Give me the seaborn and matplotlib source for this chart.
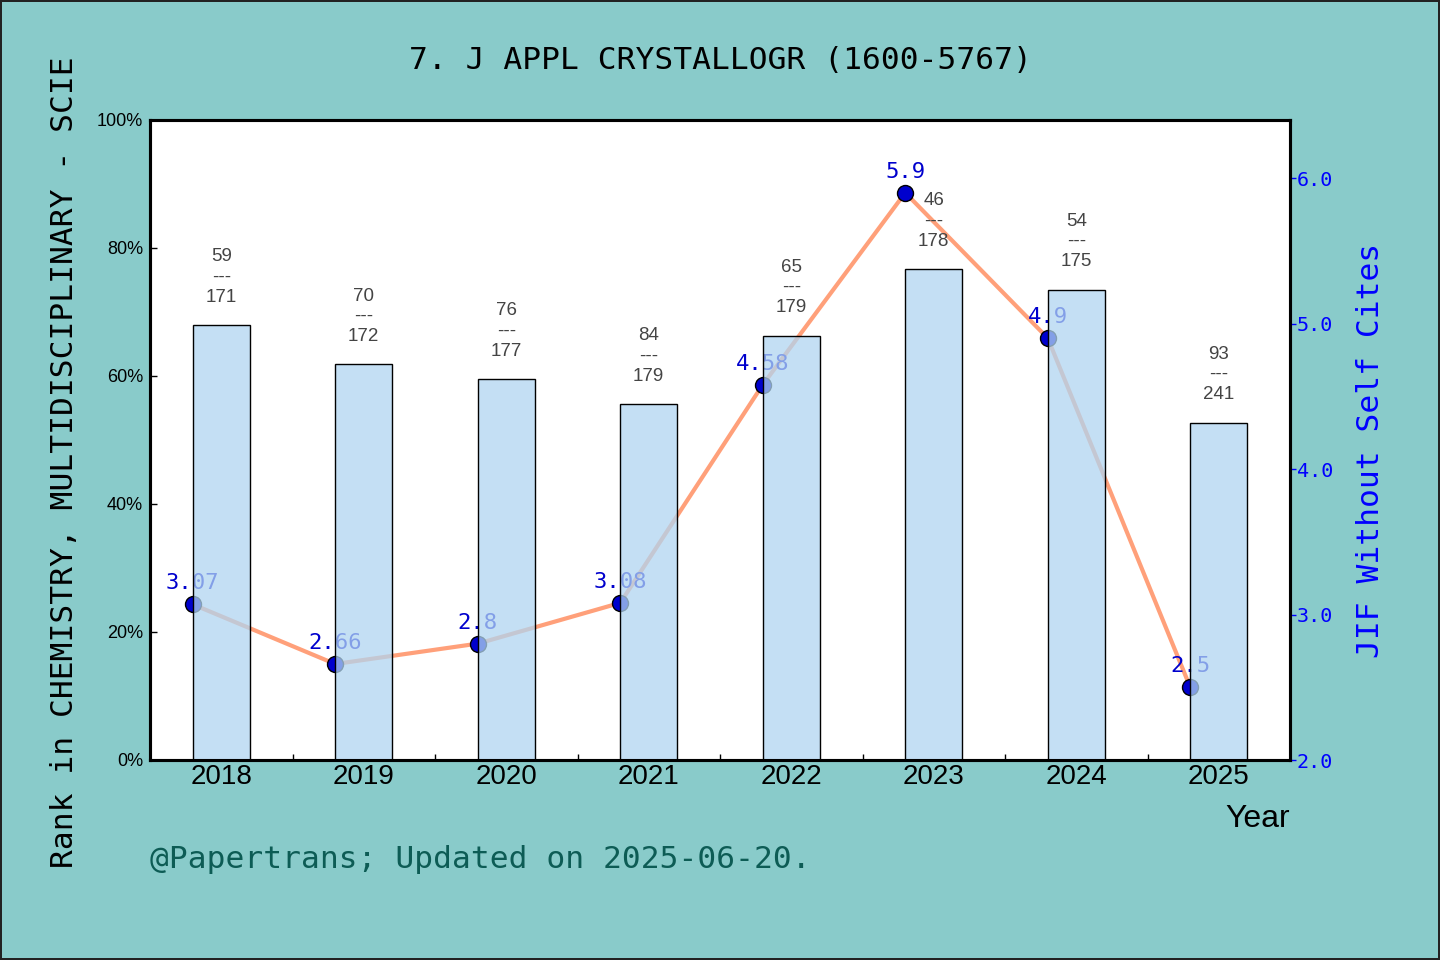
import numpy as np
import matplotlib
matplotlib.use('Agg')
import matplotlib.pyplot as plt
import seaborn as sns
from matplotlib.ticker import PercentFormatter, FixedLocator

#Data
years = [2018, 2019, 2020, 2021, 2022, 2023, 2024, 2025]
rank_pct = [0.679, 0.618, 0.595, 0.556, 0.663, 0.767, 0.735, 0.527]
ranks = [59, 70, 76, 84, 65, 46, 54, 93]
totals = [171, 172, 177, 179, 179, 178, 175, 241]
jif = [3.07, 2.66, 2.8, 3.08, 4.58, 5.9, 4.9, 2.5]

title = '7. J APPL CRYSTALLOGR (1600-5767)'
left_label = 'Rank in CHEMISTRY, MULTIDISCIPLINARY - SCIE'
right_label = 'JIF Without Self Cites'
footer = '@Papertrans; Updated on 2025-06-20.'

mono = ['DejaVu Sans Mono']
sans = ['Liberation Sans', 'DejaVu Sans']
bg = '#89CBCA'
bar_rgba = (0.69, 0.835, 0.945, 0.75)

plt.rcParams['font.family'] = sans

fig = plt.figure(figsize=(14.4, 9.6), dpi=100, facecolor=bg)
fig.patch.set_edgecolor('#222222')
fig.patch.set_linewidth(1.5)
ax1 = fig.add_axes([150/1440, 1-760/960, 1140/1440, 640/960])
ax2 = ax1.twinx()

#Bars on top of the line axis, semi transparent
ax1.set_zorder(2)
ax2.set_zorder(1)
ax1.patch.set_visible(False)
ax2.patch.set_visible(True)
ax2.patch.set_facecolor('white')

bar_x = np.array(years) + 0.2
sns.barplot(x=bar_x, y=rank_pct, native_scale=True, width=0.4, ax=ax1,
            color=bar_rgba[:3], saturation=1, edgecolor='black', linewidth=1)
for p in ax1.patches:
    p.set_facecolor(bar_rgba)
    p.set_edgecolor('black')

sns.lineplot(x=years, y=jif, ax=ax2, color='#FFA07A', linewidth=3,
             marker='o', markersize=11.5, markerfacecolor='#0000CD',
             markeredgecolor='black', markeredgewidth=1)

#Rank labels above the bars
for x, p, r, t in zip(bar_x, rank_pct, ranks, totals):
    ax1.annotate(f'{r}\n---\n{t}', xy=(x, p), xytext=(0, 14), textcoords='offset points',
                 ha='center', va='bottom', fontsize=13.5, color='#444444',
                 linespacing=1.25, family=sans)

#JIF labels above the points
for x, v in zip(years, jif):
    ax2.annotate(f'{v:g}', xy=(x, v), xytext=(0, 8), textcoords='offset points',
                 ha='center', va='bottom', fontsize=16, color='#0000CD', family=mono)

ax1.set_xlim(2017.7, 2025.7)
ax1.set_ylim(0, 1)
ax2.set_ylim(2.0, 6.4)

ax1.set_xticks(bar_x)
ax1.set_xticklabels([str(y) for y in years], fontsize=20, family=sans)
ax1.xaxis.set_minor_locator(FixedLocator(np.array(years[:-1]) + 0.7))
ax1.tick_params(axis='x', which='major', length=0, pad=3, colors='black')
ax1.tick_params(axis='x', which='minor', length=4, width=1, direction='in', color='black')

ax1.set_yticks([0, 0.2, 0.4, 0.6, 0.8, 1.0])
ax1.yaxis.set_major_formatter(PercentFormatter(1, decimals=0))
ax1.tick_params(axis='y', length=5, width=1, direction='in', pad=5, labelsize=13, colors='black')

ax2.set_yticks([2, 3, 4, 5, 6])
ax2.set_yticklabels([f'{t:.1f}' for t in [2, 3, 4, 5, 6]], family=mono, fontsize=14.5)
ax2.tick_params(axis='y', length=4, width=1, direction='out', pad=1, colors='blue')

for ax in (ax1, ax2):
    for s in ax.spines.values():
        s.set_color('black')
        s.set_linewidth(2.2)
        s.set_visible(True)

ax1.set_title(title, fontsize=22.5, family=mono, pad=37, color='black')
ax1.set_xlabel('Year', loc='right', fontsize=23, family=sans, labelpad=10, color='black')
ax1.set_ylabel(left_label, fontsize=22.5, family=mono, color='black')
ax1.yaxis.set_label_coords(-0.062, 0.466)
ax2.set_ylabel(right_label, fontsize=22.5, family=mono, color='blue')
ax2.yaxis.set_label_coords(1.058, 0.484)

fig.text(150/1440, 1-868/960, footer, fontsize=22.5, family=mono,
         color='#0D5C55', ha='left', va='baseline')

fig.savefig('out.png', dpi=100, facecolor=fig.get_facecolor(), edgecolor=fig.patch.get_edgecolor())
